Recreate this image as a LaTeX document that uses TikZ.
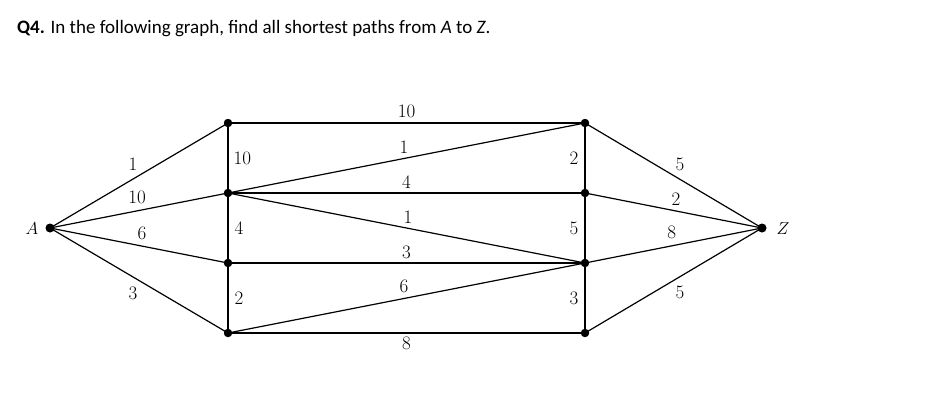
\documentclass[tikz,border=0pt]{standalone}
\usepackage{fontspec}
\newfontfamily\titlefont{Carlito}
\begin{document}
\begin{tikzpicture}[x=1pt,y=-1pt,
  vtx/.style={circle,fill=black,inner sep=0pt,minimum size=8.2pt},
  edgeline/.style={line width=1.2pt},
  lbl/.style={font=\fontsize{19}{22}\selectfont,inner sep=0pt},
  ttl/.style={font=\titlefont\fontsize{19}{23}\selectfont,inner sep=0pt,anchor=base west}]
\useasboundingbox[fill=white] (0,0) rectangle (929,405);
\node[ttl] (title) at (17,33) {\textbf{Q4.} In the following graph, find all shortest paths from \textit{A} to \textit{Z}.};
% vertices
\node[vtx,minimum size=9pt] (A) at (50,228) {};
\node[vtx,minimum size=9pt] (Z) at (762,228) {};
\node[vtx] (L1) at (228,123) {};
\node[vtx] (L2) at (228,193) {};
\node[vtx] (L3) at (228,263) {};
\node[vtx] (L4) at (228,333) {};
\node[vtx] (R1) at (585,123) {};
\node[vtx] (R2) at (585,193) {};
\node[vtx] (R3) at (585,263) {};
\node[vtx] (R4) at (585,333) {};
\node[lbl] (Alab) at (32,229) {$A$};
\node[lbl] (Zlab) at (783,229) {$Z$};
% edges from A
\draw[edgeline] (A.center) -- node[lbl,pos=0.466,yshift=15pt]{1} (L1.center);
\draw[edgeline] (A.center) -- node[lbl,pos=0.489,yshift=14pt]{10} (L2.center);
\draw[edgeline] (A.center) -- node[lbl,pos=0.517,yshift=13pt]{6} (L3.center);
\draw[edgeline] (A.center) -- node[lbl,pos=0.466,yshift=-16pt]{3} (L4.center);
% left column
\draw[edgeline] (L1.center) -- node[lbl,anchor=west,xshift=5pt]{10} (L2.center);
\draw[edgeline] (L2.center) -- node[lbl,anchor=west,xshift=6pt]{4} (L3.center);
\draw[edgeline] (L3.center) -- node[lbl,anchor=west,xshift=6pt]{2} (L4.center);
% middle
\draw[edgeline] (L1.center) -- node[lbl,pos=0.5,yshift=12pt]{10} (R1.center);
\draw[edgeline] (L2.center) -- node[lbl,pos=0.493,yshift=11.5pt]{1} (R1.center);
\draw[edgeline] (L2.center) -- node[lbl,pos=0.5,yshift=11pt]{4} (R2.center);
\draw[edgeline] (L2.center) -- node[lbl,pos=0.504,yshift=11pt]{1} (R3.center);
\draw[edgeline] (L3.center) -- node[lbl,pos=0.5,yshift=11pt]{3} (R3.center);
\draw[edgeline] (L4.center) -- node[lbl,pos=0.493,yshift=12.5pt]{6} (R3.center);
\draw[edgeline] (L4.center) -- node[lbl,pos=0.5,yshift=-10pt]{8} (R4.center);
% right column
\draw[edgeline] (R1.center) -- node[lbl,anchor=east,xshift=-6pt]{2} (R2.center);
\draw[edgeline] (R2.center) -- node[lbl,anchor=east,xshift=-6pt]{5} (R3.center);
\draw[edgeline] (R3.center) -- node[lbl,anchor=east,xshift=-6pt]{3} (R4.center);
% edges to Z
\draw[edgeline] (R1.center) -- node[lbl,pos=0.537,yshift=15pt]{5} (Z.center);
\draw[edgeline] (R2.center) -- node[lbl,pos=0.514,yshift=12pt]{2} (Z.center);
\draw[edgeline] (R3.center) -- node[lbl,pos=0.49,yshift=13pt]{8} (Z.center);
\draw[edgeline] (R4.center) -- node[lbl,pos=0.537,yshift=-16pt]{5} (Z.center);
% redraw dots on top
\foreach \v in {A,Z,L1,L2,L3,L4,R1,R2,R3,R4} {\fill (\v) circle (4.1pt);}
\end{tikzpicture}
\end{document}
